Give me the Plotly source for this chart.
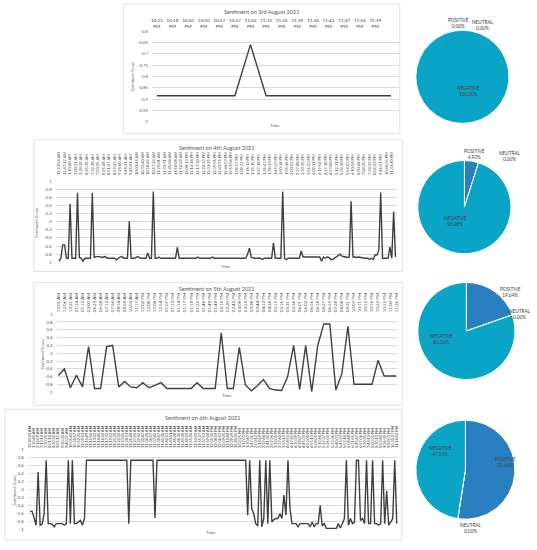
import plotly.graph_objects as go

# ---------------- data ----------------
aug3_times = ["10:13 PM", "10:18 PM", "10:50 PM", "10:50 PM", "10:57 PM", "10:57 PM", "11:02 PM",
              "11:15 PM", "11:25 PM", "11:29 PM", "11:36 PM", "11:43 PM", "11:47 PM", "11:54 PM", "11:59 PM"]
aug3_scores = [-0.885, -0.885, -0.885, -0.885, -0.885, -0.885, -0.66, -0.885,
               -0.885, -0.885, -0.885, -0.885, -0.885, -0.885, -0.885, -0.885]

aug4_times = ["12:21:54 AM", "12:47:12 AM", "1:10:40 AM", "2:00:21 AM", "2:38:28 AM", "6:25:38 AM", "7:32:18 AM",
              "7:50:25 AM", "8:25:48 AM", "8:51:47 AM", "8:59:49 AM", "9:28:00 AM", "9:48:31 AM", "9:48:41 AM",
              "10:01:45 AM", "10:32:40 AM", "10:50:49 AM", "10:57:24 AM", "11:25:01 AM", "11:33:51 AM",
              "11:45:04 AM", "11:50:08 AM", "11:56:29 AM", "12:08:13 PM", "12:14:18 PM", "12:17:30 PM",
              "12:24:33 PM", "12:31:25 PM", "12:39:56 PM", "12:43:55 PM", "12:46:53 PM", "12:59:04 PM",
              "1:05:57 PM", "1:09:32 PM", "1:16:13 PM", "1:25:15 PM", "1:27:18 PM", "1:35:47 PM", "1:38:33 PM",
              "1:45:29 PM", "1:50:14 PM", "1:55:16 PM", "2:00:52 PM", "2:27:08 PM", "2:33:35 PM", "3:56:23 PM",
              "4:02:11 PM", "4:19:54 PM", "4:27:18 PM", "4:53:00 PM", "5:12:31 PM", "5:39:30 PM", "5:54:07 PM",
              "6:10:56 PM", "6:50:44 PM", "7:04:25 PM", "7:34:39 PM", "8:02:22 PM", "9:46:51 PM",
              "10:46:55 PM", "11:33:40 PM"]
aug4_scores = [
    -0.97, -0.9, -0.57, -0.57, -0.9, -0.9, 0.44, -0.9, -0.9, -0.9,
    0.71, -0.88, -0.9, -0.97, -0.9, -0.9, -0.9, -0.9, 0.71, -0.88,
    -0.86, -0.86, -0.86, -0.88, -0.86, -0.86, -0.9, -0.9, -0.9, -0.9,
    -0.9, -0.94, -0.9, -0.87, -0.86, -0.9, -0.9, -0.9, 0.01, -0.9,
    -0.9, -0.9, -0.87, -0.87, -0.9, -0.9, -0.9, -0.9, -0.77, -0.9,
    -0.9, 0.74, -0.9, -0.9, -0.87, -0.9, -0.9, -0.9, -0.9, -0.9,
    -0.9, -0.9, -0.9, -0.9, -0.63, -0.9, -0.9, -0.9, -0.9, -0.9,
    -0.9, -0.9, -0.9, -0.9, -0.9, -0.87, -0.9, -0.9, -0.9, -0.9,
    -0.9, -0.9, -0.9, -0.87, -0.9, -0.9, -0.9, -0.9, -0.9, -0.9,
    -0.9, -0.9, -0.9, -0.9, -0.9, -0.9, -0.9, -0.9, -0.9, -0.9,
    -0.9, -0.9, -0.8, -0.65, -0.88, -0.9, -0.9, -0.9, -0.9, -0.9,
    -0.93, -0.9, -0.9, -0.9, -0.9, -0.9, -0.52, -0.9, -0.9, -0.9,
    -0.9, 0.74, -0.9, -0.93, -0.9, -0.9, -0.9, -0.9, -0.9, -0.9,
    -0.9, -0.72, -0.87, -0.87, -0.87, -0.87, -0.87, -0.87, -0.87, -0.87,
    -0.87, -0.87, -0.97, -0.87, -0.9, -0.87, -0.88, -0.93, -0.93, -0.9,
    -0.87, -0.85, -0.8, -0.85, -0.87, -0.87, -0.88, -0.87, 0.5, -0.87,
    -0.87, -0.88, -0.87, -0.88, -0.9, -0.9, -0.9, -0.9, -0.93, -0.9,
    -0.93, -0.82, -0.82, -0.7, 0.72, -0.9, -0.9, -0.9, -0.9, -0.62,
    -0.9, 0.25, -0.87]

aug5_times = ["12:01 AM", "12:06 AM", "12:21 AM", "01:14 AM", "01:15 AM", "03:00 AM", "06:25 AM", "06:58 AM",
              "07:13 AM", "07:56 AM", "08:14 AM", "08:59 AM", "10:03 AM", "11:17 AM", "12:02 PM", "12:08 PM",
              "12:08 PM", "12:54 PM", "01:07 PM", "01:13 PM", "01:14 PM", "01:17 PM", "01:19 PM", "01:22 PM",
              "01:48 PM", "01:49 PM", "01:49 PM", "02:12 PM", "02:20 PM", "02:43 PM", "03:09 PM", "03:23 PM",
              "03:38 PM", "03:44 PM", "04:12 PM", "04:58 PM", "05:15 PM", "05:16 PM", "05:31 PM", "05:56 PM",
              "06:01 PM", "06:02 PM", "06:16 PM", "06:18 PM", "06:27 PM", "06:55 PM", "07:28 PM", "08:08 PM",
              "09:31 PM", "10:07 PM", "10:11 PM", "10:12 PM", "10:16 PM", "10:22 PM", "10:55 PM", "11:00 PM",
              "11:26 PM"]
aug5_scores = [
    -0.57, -0.4, -0.88, -0.56, -0.86, 0.17, -0.9, -0.9, 0.17, 0.2,
    -0.86, -0.72, -0.86, -0.88, -0.75, -0.88, -0.82, -0.75, -0.9, -0.9,
    -0.9, -0.9, -0.9, -0.75, -0.9, -0.9, -0.9, 0.52, -0.9, -0.9,
    0.15, -0.81, -0.96, -0.83, -0.67, -0.9, -0.94, -0.95, -0.6, 0.2,
    -0.92, 0.2, -0.98, 0.2, 0.75, 0.75, -0.94, -0.52, 0.69, -0.79,
    -0.79, -0.79, -0.79, -0.18, -0.58, -0.58, -0.58]

aug6_times = ["12:43:58 AM", "1:30:40 AM", "2:15:09 AM", "7:13:14 AM", "7:30:25 AM", "8:01:18 AM", "8:30:32 AM",
              "9:05:11 AM", "9:30:35 AM", "9:40:37 AM", "10:05:42 AM", "10:28:57 AM", "10:52:20 AM",
              "11:09:01 AM", "11:10:49 AM", "11:11:56 AM", "11:13:02 AM", "11:14:40 AM", "11:16:16 AM",
              "11:17:33 AM", "11:19:02 AM", "11:20:28 AM", "11:22:00 AM", "11:23:05 AM", "11:24:11 AM",
              "11:25:48 AM", "11:27:15 AM", "11:29:50 AM", "11:32:42 AM", "11:34:26 AM", "11:36:17 AM",
              "11:37:40 AM", "11:38:57 AM", "11:40:38 AM", "11:42:13 AM", "11:43:51 AM", "11:45:24 AM",
              "11:46:30 AM", "11:47:38 AM", "11:49:22 AM", "11:51:16 AM", "11:53:09 AM", "11:55:27 AM",
              "11:57:13 AM", "11:59:04 AM", "12:01:33 PM", "12:04:19 PM", "12:06:02 PM", "12:09:00 PM",
              "12:18:44 PM", "12:29:29 PM", "12:45:10 PM", "1:02:25 PM", "1:17:03 PM", "1:30:47 PM",
              "1:47:35 PM", "2:03:12 PM", "2:18:59 PM", "2:27:48 PM", "2:41:30 PM", "2:57:26 PM", "3:20:05 PM",
              "3:37:42 PM", "3:58:15 PM", "4:04:51 PM", "4:17:20 PM", "4:30:39 PM", "4:38:07 PM", "4:45:33 PM",
              "4:52:08 PM", "4:55:10 PM", "5:04:05 PM", "5:10:48 PM", "5:17:37 PM", "5:26:00 PM", "5:33:36 PM",
              "5:40:03 PM", "5:45:29 PM", "5:52:14 PM", "6:04:48 PM", "6:21:55 PM", "6:45:47 PM", "6:57:06 PM",
              "7:20:31 PM", "7:48:19 PM", "8:00:22 PM", "8:30:12 PM", "8:52:40 PM", "9:26:39 PM", "9:58:03 PM",
              "10:31:27 PM", "11:14:52 PM"]
aug6_scores = [
    -0.55, -0.55, -0.72, -0.9, 0.44, -0.9, -0.87, -0.6, 0.74, -0.86,
    -0.86, -0.88, -0.94, -0.86, -0.86, -0.86, -0.86, -0.9, -0.86, 0.74,
    -0.86, 0.74, -0.86, -0.86, -0.82, -0.78, -0.9, -0.73, 0.74, 0.74,
    0.74, 0.74, 0.74, 0.74, 0.74, 0.74, 0.74, 0.74, 0.74, 0.74,
    0.74, 0.74, 0.74, 0.74, 0.74, 0.74, 0.74, 0.74, 0.74, -0.86,
    0.74, 0.74, 0.74, 0.74, 0.74, 0.74, 0.74, 0.74, 0.74, 0.74,
    0.74, 0.74, -0.72, 0.74, 0.74, 0.74, 0.74, 0.74, 0.74, 0.74,
    0.74, 0.74, 0.74, 0.74, 0.74, 0.74, 0.74, 0.74, 0.74, 0.74,
    0.74, 0.74, 0.74, 0.74, 0.74, 0.74, 0.74, 0.74, 0.74, 0.74,
    0.74, 0.74, 0.74, 0.74, 0.74, 0.74, 0.74, 0.74, 0.74, 0.74,
    0.74, 0.74, 0.74, 0.74, 0.74, 0.74, 0.74, 0.74, -0.65, 0.74,
    -0.48, -0.61, -0.86, -0.92, 0.74, -0.94, -0.73, 0.74, -0.86, 0.74,
    -0.82, -0.76, -0.73, -0.73, -0.61, -0.73, -0.14, -0.65, 0.74, -0.48,
    -0.86, -0.86, -0.86, -0.94, -0.86, -0.86, -0.86, -0.86, -0.86, -0.94,
    -0.82, -0.94, -0.86, -0.86, -0.4, -0.92, -0.86, -0.98, -0.98, -0.98,
    -0.98, -0.98, -0.98, -0.86, -0.97, -0.86, -0.73, 0.74, -0.9, -0.73,
    -0.86, -0.82, 0.74, 0.74, -0.78, -0.73, -0.86, 0.74, -0.86, -0.86,
    0.74, -0.86, -0.86, -0.9, -0.86, 0.74, -0.86, -0.03, -0.9, -0.82,
    -0.73, 0.74, -0.86]

sentiment_labels = ["POSITIVE", "NEUTRAL", "NEGATIVE"]
pie_aug3 = [0.0, 0.0, 100.0]
pie_aug4 = [4.92, 0.0, 95.08]
pie_aug5 = [19.64, 0.0, 80.36]
pie_aug6 = [52.46, 0.0, 47.54]

chart_titles = ["Sentiment on 3rd August 2021", "Sentiment on 4th August 2021",
                "Sentiment on 5th August 2021", "Sentiment on 6th August 2021"]

y_full_vals = [1, 0.8, 0.6, 0.4, 0.2, 0, -0.2, -0.4, -0.6, -0.8, -1]
y_full_text = ["1", "0.8", "0.6", "0.4", "0.2", "0", "-0.2", "-0.4", "-0.6", "-0.8", "-1"]
y_aug3_vals = [-0.6, -0.65, -0.7, -0.75, -0.8, -0.85, -0.9, -0.95, -1]
y_aug3_text = ["-0.6", "-0.65", "-0.7", "-0.75", "-0.8", "-0.85", "-0.9", "-0.95", "-1"]

# ---------------- layout helpers ----------------
W, H = 537, 550
FONT = "Lato, 'Open Sans', sans-serif"
GREY = "#595959"
DARK = "#404040"
LINE = "#404040"
GRID = "#D9D9D9"
POS_C = "#2A7FC1"
NEU_C = "#1F5F99"
NEG_C = "#0AA5C6"


def px(x):
    return x / W


def py(y):
    return 1 - y / H


fig = go.Figure()

charts = [
    dict(scores=aug3_scores, times=[t.replace(" ", "<br>") for t in aug3_times], step=1,
         xpx=(152, 400), ypx=(29.3, 121), xr=[-0.3, 15.5], yr=[-1, -0.6],
         yv=y_aug3_vals, yt=y_aug3_text, tfs=4.6, angle=0, stand=1),
    dict(scores=aug4_scores, times=aug4_times, step=3,
         xpx=(55, 398), ypx=(180.7, 262.7), xr=[-1.8, 182.7], yr=[-1, 1],
         yv=y_full_vals, yt=y_full_text, tfs=4.0, angle=-90, stand=5),
    dict(scores=aug5_scores, times=aug5_times, step=1,
         xpx=(56, 398), ypx=(315, 394), xr=[-0.28, 56.1], yr=[-1, 1],
         yv=y_full_vals, yt=y_full_text, tfs=4.4, angle=-90, stand=1),
    dict(scores=aug6_scores, times=aug6_times, step=2,
         xpx=(27, 399), ypx=(452, 532), xr=[-1.1, 182.5], yr=[-1, 1],
         yv=y_full_vals, yt=y_full_text, tfs=3.8, angle=-90, stand=1),
]

layout_axes = {}
for i, c in enumerate(charts):
    n = i + 1
    xa = "x" if n == 1 else f"x{n}"
    ya = "y" if n == 1 else f"y{n}"
    xs = list(range(len(c["scores"])))
    fig.add_trace(go.Scatter(x=xs, y=c["scores"], mode="lines",
                             line=dict(color=LINE, width=1.4),
                             xaxis=xa, yaxis=ya, hoverinfo="skip", showlegend=False))
    tickvals = list(range(0, len(c["times"]) * c["step"], c["step"]))
    layout_axes["xaxis" if n == 1 else f"xaxis{n}"] = dict(
        domain=[px(c["xpx"][0]), px(c["xpx"][1])], range=c["xr"], anchor=ya, side="top",
        tickmode="array", tickvals=tickvals, ticktext=c["times"], tickangle=c["angle"],
        tickfont=dict(size=c["tfs"], color=DARK, family=FONT), ticks="", ticklabelstandoff=c["stand"],
        showgrid=False, zeroline=False, showline=False, fixedrange=True)
    layout_axes["yaxis" if n == 1 else f"yaxis{n}"] = dict(
        domain=[py(c["ypx"][1]), py(c["ypx"][0])], range=c["yr"], anchor=xa,
        tickmode="array", tickvals=c["yv"], ticktext=c["yt"],
        tickfont=dict(size=4.4, color=GREY, family=FONT), ticks="", ticklabelstandoff=3,
        showgrid=True, gridcolor=GRID, gridwidth=0.7, zeroline=False, showline=False, fixedrange=True)

fig.update_layout(**layout_axes)

pies = [
    (pie_aug3, (417, 511, 28.5, 122.5)),
    (pie_aug4, (419, 513, 160, 254)),
    (pie_aug5, (419, 517, 283, 381)),
    (pie_aug6, (417, 517, 422, 522)),
]
for vals, (x0, x1, y0, y1) in pies:
    fig.add_trace(go.Pie(labels=sentiment_labels, values=vals, sort=False, direction="clockwise",
                         rotation=0, textinfo="none", hoverinfo="skip", showlegend=False,
                         marker=dict(colors=[POS_C, NEU_C, NEG_C], line=dict(color="white", width=1)),
                         domain=dict(x=[px(x0), px(x1)], y=[py(y1), py(y0)])))

boxes = [(123, 401, 2, 133), (33, 404, 139, 272), (33, 404, 283, 407), (4, 403, 411, 543)]
shapes = [dict(type="rect", xref="paper", yref="paper", x0=px(a), x1=px(b), y0=py(d), y1=py(c),
               line=dict(color=GRID, width=0.8), fillcolor="rgba(0,0,0,0)", layer="below")
          for a, b, c, d in boxes]

annotations = []
title_pos = [(262, 10), (217, 147), (217, 289), (203, 419)]
ytitle_pos = [(132, 75), (36, 222), (42, 355), (14, 492)]
time_pos = [(276, 125), (226, 267), (227, 397), (211, 535)]
for t, (tx, ty), (ax_, ay_), (mx, my) in zip(chart_titles, title_pos, ytitle_pos, time_pos):
    annotations.append(dict(text=t, x=px(tx), y=py(ty), xref="paper", yref="paper", showarrow=False,
                            font=dict(size=5.6, color=GREY, family=FONT), xanchor="center", yanchor="middle"))
    annotations.append(dict(text="Sentiment Score", x=px(ax_), y=py(ay_), xref="paper", yref="paper",
                            showarrow=False, textangle=-90,
                            font=dict(size=4.2, color=GREY, family=FONT), xanchor="center", yanchor="middle"))
    annotations.append(dict(text="Time", x=px(mx), y=py(my), xref="paper", yref="paper", showarrow=False,
                            font=dict(size=4.4, color=GREY, family=FONT), xanchor="center", yanchor="middle"))

pie_label_pos = [
    [(460, 21), (485, 23.5), (470, 90)],
    [(476, 153.5), (512, 155.5), (457, 221)],
    [(512, 293), (522, 315), (443, 340)],
    [(507, 464), (473, 530.5), (442, 453)],
]
for (vals, _), poss in zip(pies, pie_label_pos):
    total = sum(vals)
    for lab, v, (lx, ly) in zip(sentiment_labels, vals, poss):
        annotations.append(dict(text=f"{lab}<br>{v / total * 100:.2f}%", x=px(lx), y=py(ly),
                                xref="paper", yref="paper", showarrow=False,
                                font=dict(size=4.7, color=DARK, family=FONT),
                                xanchor="center", yanchor="middle"))

fig.update_layout(width=W, height=H, margin=dict(l=0, r=0, t=0, b=0),
                  paper_bgcolor="white", plot_bgcolor="white",
                  shapes=shapes, annotations=annotations, showlegend=False,
                  font=dict(family=FONT, color=GREY))

fig.write_html("out.html", config={"displayModeBar": False},
               post_script="document.body.style.margin='0';document.body.style.padding='0';")
